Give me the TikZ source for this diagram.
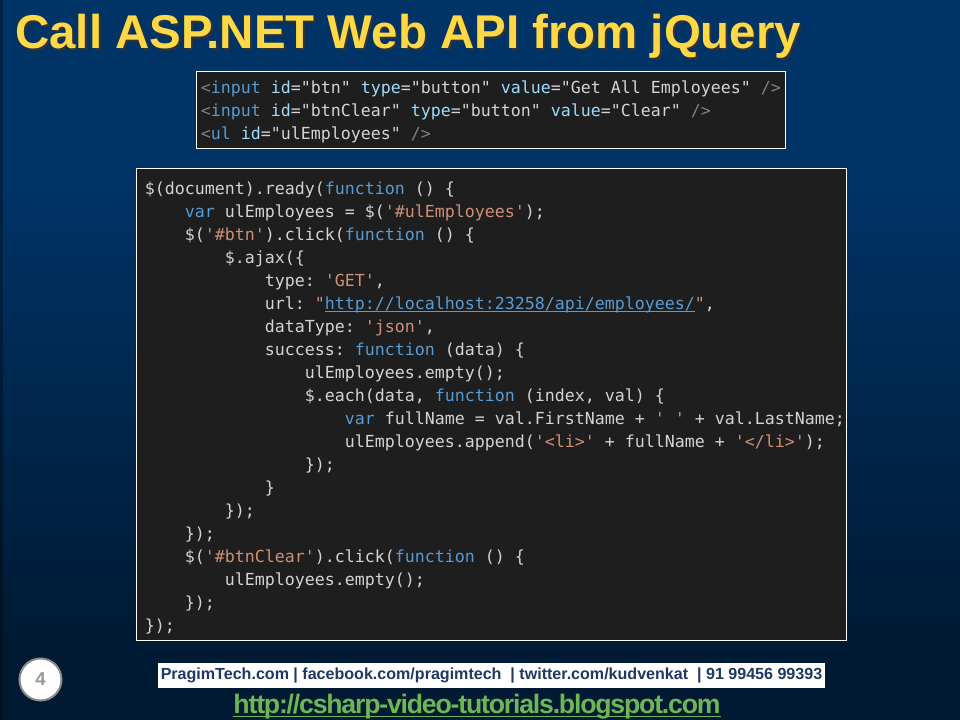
\documentclass[tikz,border=0pt]{standalone}
\usepackage{fontspec}
\usepackage{tikz}
\usetikzlibrary{positioning}
\setmainfont{Liberation Sans}
\newfontfamily\codefont{DejaVu Sans Mono}
\newfontfamily\linkfont[LetterSpace=-4.5]{Liberation Sans Bold}
\definecolor{slidetop}{HTML}{003366}
\definecolor{slidebot}{HTML}{001A33}
\definecolor{titlecol}{HTML}{FFD845}
\definecolor{codebg}{HTML}{1E1E1E}
\definecolor{codetxt}{HTML}{D4D4D4}
\definecolor{kwcol}{HTML}{569CD6}
\definecolor{strcol}{HTML}{CE9178}
\definecolor{attrcol}{HTML}{9CDCFE}
\definecolor{brkcol}{HTML}{808080}
\definecolor{foottxt}{HTML}{1F3864}
\definecolor{linkcol}{HTML}{6DB654}
\newcommand{\kw}[1]{\textcolor{kwcol}{#1}}
\newcommand{\strg}[1]{\textcolor{strcol}{#1}}
\newcommand{\attr}[1]{\textcolor{attrcol}{#1}}
\newcommand{\brk}[1]{\textcolor{brkcol}{#1}}
\newcommand{\urltxt}[1]{\textcolor{kwcol}{\underline{\smash{#1}}}}
\begin{document}
\begin{tikzpicture}[x=0.75pt,y=-0.75pt,
 codebox/.style={draw=white, line width=0.75pt, fill=codebg},
 titletxt/.style={anchor=base west, inner sep=0pt, font=\bfseries\fontsize{35.55pt}{40pt}\selectfont},
 codeline/.style={anchor=base west, inner sep=0pt, text=codetxt, font=\codefont\frenchspacing\fontsize{12.46pt}{15pt}\selectfont}]
\useasboundingbox (0,0) rectangle (960,720);
% slide background
\fill[slidetop] (0,0) rectangle (960,190);
\fill[top color=slidetop, bottom color=slidebot] (0,189.5) rectangle (960,640.5);
\fill[slidebot] (0,640) rectangle (960,720);
\fill[black, opacity=.3] (0,0) rectangle (3,720);
\node[titletxt, text=black!80] (titleshadow) at (17,51) {Call ASP.NET Web API from jQuery};
\node[titletxt, text=titlecol] (title) at (15,49) {Call ASP.NET Web API from jQuery};
\draw[codebox] (196.5,71.5) rectangle (785.5,148.5);
\draw[codebox] (136.5,168.5) rectangle (846.5,640.5);
% markup
\foreach \i/\txt in {
 0/{\brk{<}\kw{input} \attr{id}="btn" \attr{type}="button" \attr{value}="Get All Employees" \brk{/>}},
 1/{\brk{<}\kw{input} \attr{id}="btnClear" \attr{type}="button" \attr{value}="Clear" \brk{/>}},
 2/{\brk{<}\kw{ul} \attr{id}="ulEmployees" \brk{/>}}}
{\node[codeline] (html\i) at (200.5,93.5+23*\i) {\txt};}
% script
\foreach \i/\ind/\txt in {
 0/0/{\$(document).ready(\kw{function} () \{},
 1/1/{\kw{var} ulEmployees = \$(\strg{'\#ulEmployees'});},
 2/1/{\$(\strg{'\#btn'}).click(\kw{function} () \{},
 3/2/{\$.ajax(\{},
 4/3/{type: \strg{'GET'},},
 5/3/{url: \strg{"}\urltxt{http://localhost:23258/api/employees/}\strg{"},},
 6/3/{dataType: \strg{'json'},},
 7/3/{success: \kw{function} (data) \{},
 8/4/{ulEmployees.empty();},
 9/4/{\$.each(data, \kw{function} (index, val) \{},
 10/5/{\kw{var} fullName = val.FirstName + \strg{' '} + val.LastName;},
 11/5/{ulEmployees.append(\strg{'<li>'} + fullName + \strg{'</li>'});},
 12/4/{\});},
 13/3/{\}},
 14/2/{\});},
 15/1/{\});},
 16/1/{\$(\strg{'\#btnClear'}).click(\kw{function} () \{},
 17/2/{ulEmployees.empty();},
 18/1/{\});},
 19/0/{\});}}
{\node[codeline] (js\i) at (144.5+40*\ind,194.5+23*\i) {\txt};}
\node[circle, draw=black!45, line width=1.5pt, fill=white, minimum size=31.5pt, inner sep=0pt, text=black!40, font=\bfseries\fontsize{14pt}{16pt}\selectfont] (pagenum) at (40.5,679.5) {4};
\node[fill=white, minimum width=500.25pt, minimum height=18.75pt, inner sep=0pt, text=foottxt, font=\bfseries\fontsize{12.05pt}{15pt}\selectfont] (contact) at (491.5,675.5) {PragimTech.com | facebook.com/pragimtech\ \ | twitter.com/kudvenkat\ \ | 91 99456 99393};
\node[anchor=base, inner sep=0pt, text=linkcol, font=\linkfont\fontsize{20pt}{22pt}\selectfont] (link) at (477,713) {\underline{\smash{http://csharp-video-tutorials.blogspot.com}\rule[-1.4pt]{0pt}{1.4pt}}};
\end{tikzpicture}
\end{document}
